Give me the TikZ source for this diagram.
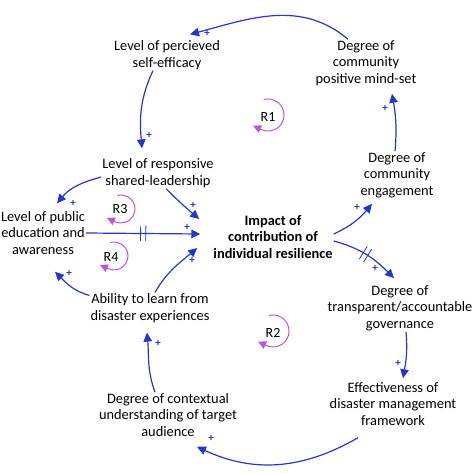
\documentclass[tikz,border=0pt]{standalone}
\usepackage{fontspec}
\setmainfont{Carlito}
\usepackage{xcolor}
\usepackage{tikz}
\usetikzlibrary{arrows.meta, positioning, calc}
\definecolor{linkblue}{RGB}{35,55,205}
\definecolor{loopviolet}{RGB}{185,85,225}
\tikzstyle{var} = [align=center, inner sep=1pt, font=\fontsize{14.4}{16.5}\selectfont]
\tikzstyle{hub} = [var, font=\bfseries\fontsize{14.4}{16.5}\selectfont]
\tikzstyle{arrow} = [linkblue, line width=1.2pt, -{Triangle[length=9pt,width=8.5pt]}]
\tikzstyle{pol} = [linkblue, inner sep=0pt, font=\bfseries\fontsize{11}{11}\selectfont]
\tikzstyle{loopmark} = [loopviolet, line width=1pt, -{Triangle[length=8pt,width=8pt]}]
\tikzstyle{loopname} = [inner sep=0pt, font=\fontsize{14}{14}\selectfont]
\tikzstyle{bars} = [minimum width=4pt, minimum height=14pt, inner sep=0pt, sloped]

\begin{document}
\begin{tikzpicture}[x=1pt, y=1pt]
\useasboundingbox (0,0) rectangle (474,-474);

% variables
\node (self) [var] at (167,-55) {Level of percieved\\self-efficacy};
\node (mind) [var] at (366,-63) {Degree of\\community\\positive mind-set};
\node (resp) [var] at (158,-173) {Level of responsive\\shared-leadership};
\node (eng) [var] at (397,-175) {Degree of\\community\\engagement};
\node (pub) [var] at (43,-233) {Level of public\\education and\\awareness};
\node (imp) [hub] at (273,-237) {Impact of\\contribution of\\individual resilience};
\node (abl) [var] at (150,-308) {Ability to learn from\\disaster experiences};
\node (trans) [var] at (400,-308) {Degree of\\transparent/accountable\\governance};
\node (eff) [var] at (393,-404) {Effectiveness of\\disaster management\\framework};
\node (ctx) [var] at (168,-415) {Degree of contextual\\understanding of target\\audience};

% links
\draw [arrow] ([xshift=-18pt]mind.north) to[out=140, in=15] ([xshift=23pt,yshift=5pt]self.north);
\draw [arrow] ([xshift=-14pt]self.south) to[out=-115, in=95] ([xshift=-16pt,yshift=9pt]resp.north);
\draw [arrow] ([xshift=-2pt]eng.north) to[out=85, in=-80] ([xshift=26pt,yshift=-7pt]mind.south);
\draw [arrow] ([yshift=3pt]imp.east) to[out=25, in=-130] ([xshift=-25pt,yshift=-5pt]eng.south);
\draw [arrow] ([yshift=-4pt]imp.east) to[out=-15, in=135]
  node (cut1) [bars, pos=0.48] {} ([xshift=-6pt,yshift=6pt]trans.north);
\draw [arrow] ([xshift=6pt]trans.south) to[out=-85, in=80] ([xshift=10pt,yshift=3pt]eff.north);
\draw [arrow] ([xshift=-35pt,yshift=-11pt]eff.south) to[out=-150, in=-25] ([xshift=29pt,yshift=-9pt]ctx.south);
\draw [arrow] ([xshift=-13pt]ctx.north) to[out=110, in=-85] ([xshift=-3pt,yshift=-9pt]abl.south);
\draw [arrow] ([xshift=5pt]abl.north) to[out=60, in=-140] ([xshift=-15pt,yshift=-11pt]imp.west);
\draw [arrow] ([yshift=-3pt]abl.north west) to[out=165, in=-45] ([xshift=12pt,yshift=-16pt]pub.south);
\draw [arrow] ([yshift=-4pt]resp.west) to[out=-165, in=50] ([xshift=14pt,yshift=7pt]pub.north);
\draw [arrow] ([xshift=8pt]resp.south) to[out=-45, in=140] ([xshift=-13pt,yshift=18pt]imp.west);
\draw [arrow] (pub.east) -- node (cut2) [bars, pos=0.5] {} ([xshift=-12pt,yshift=3pt]imp.west);

% delay marks
\draw [linkblue, line width=0.8pt] (cut1.north west) -- (cut1.south west) (cut1.north east) -- (cut1.south east);
\draw [linkblue, line width=0.8pt] (cut2.north west) -- (cut2.south west) (cut2.north east) -- (cut2.south east);

% polarities
\node [pol] at (207,-33) {+};
\node [pol] at (149,-135) {+};
\node [pol] at (385,-108) {+};
\node [pol] at (357,-207) {+};
\node [pol] at (375,-268) {+};
\node [pol] at (398,-363) {+};
\node [pol] at (211,-438) {+};
\node [pol] at (158,-343) {+};
\node [pol] at (192,-260) {+};
\node [pol] at (69,-273) {+};
\node [pol] at (73,-203) {+};
\node [pol] at (193,-205) {+};
\node [pol] at (187,-227) {+};

% loops
\draw [loopmark] ($(268,-115)+(105:16)$) arc[start angle=105, end angle=-115, radius=16] -- ++(155:9);
\node [loopname] at (268,-117) {R1};
\draw [loopmark] ($(273,-331)+(105:16)$) arc[start angle=105, end angle=-115, radius=16] -- ++(155:9);
\node [loopname] at (273,-333) {R2};
\draw [loopmark] ($(121,-209)+(105:14)$) arc[start angle=105, end angle=-115, radius=14] -- ++(155:9);
\node [loopname] at (120,-209) {R3};
\draw [loopmark] ($(114,-256)+(105:14)$) arc[start angle=105, end angle=-115, radius=14] -- ++(155:9);
\node [loopname] at (111,-257) {R4};

\end{tikzpicture}
\end{document}
